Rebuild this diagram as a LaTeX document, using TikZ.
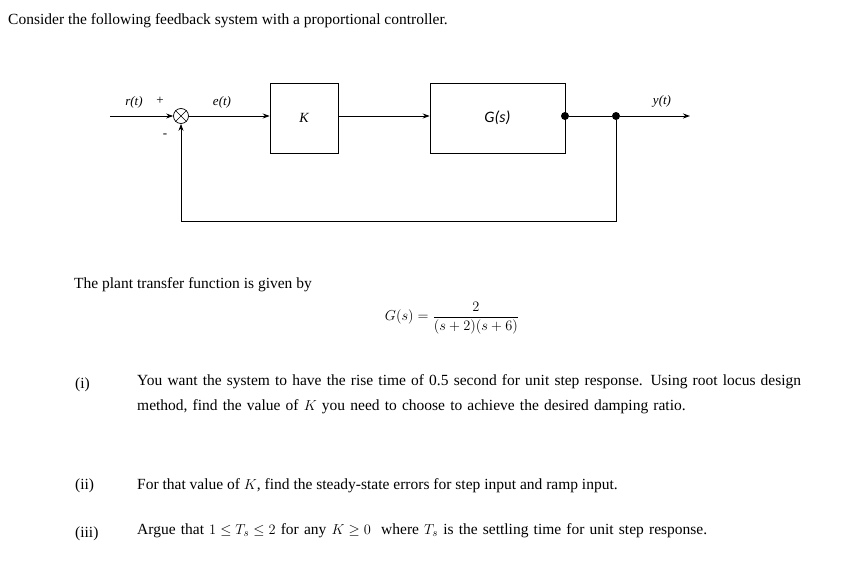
\documentclass[tikz,border=0pt]{standalone}
\usepackage{amsmath}
\usepackage{fontspec}
\setmainfont{Liberation Serif}
\newfontfamily\carlitofont{Carlito}
\usetikzlibrary{arrows.meta}
\begin{document}
\begin{tikzpicture}[x=1pt,y=-1pt,
  blk/.style={draw,line width=0.6pt,inner sep=0pt},
  sig/.style={line width=0.9pt,-{Stealth[length=7pt,width=5pt]}},
  wire/.style={line width=0.9pt},
  dotn/.style={circle,fill=black,inner sep=0pt,minimum size=8pt},
  txt/.style={anchor=west,inner sep=0pt,font=\fontsize{15.5}{18}\selectfont},
  lbl/.style={inner sep=0pt,font=\fontsize{13}{15}\selectfont\itshape}]
\useasboundingbox (0,0) rectangle (847,586);
\node[txt] (title) at (8,21) {Consider the following feedback system with a proportional controller.};
% diagram
\coordinate (in) at (110,116);
\node[draw,circle,line width=0.7pt,minimum size=15pt,inner sep=0pt] (sum) at (181,116) {};
\draw[line width=0.7pt] (sum.north west)--(sum.south east) (sum.north east)--(sum.south west);
\node[blk,minimum width=68pt,minimum height=70pt] (K) at (304,118) {\fontsize{14}{16}\selectfont\itshape K};
\node[blk,minimum width=135pt,minimum height=70pt] (G) at (497.5,118) {\carlitofont\fontsize{16}{18}\selectfont\itshape G(s)};
\node[dotn] (d1) at (565,116) {};
\node[dotn] (d2) at (616,116) {};
\coordinate (out) at (690,116);
\coordinate (fb1) at (616,221);
\coordinate (fb2) at (181,221);
\draw[sig] (in) -- (sum.west);
\draw[sig] (sum.east) -- (K.west|-sum);
\draw[sig] (K.east|-sum) -- (G.west|-sum);
\draw[wire] (d1) -- (d2);
\draw[sig] (d2) -- (out);
\draw[sig] (d2) -- (fb1) -- (fb2) -- (sum.south);
\node[lbl] (r) at (134,102) {r(t)};
\node[lbl] (plus) at (160,101) {\upshape +};
\node[lbl] (minus) at (165,136) {\upshape -};
\node[lbl] (e) at (222,102) {e(t)};
\node[lbl] (y) at (662,101) {y(t)};
% text
\node[txt] (plant) at (74,285) {The plant transfer function is given by};
\node[inner sep=0pt,font=\fontsize{15}{18}\selectfont] (eq) at (452,318) {$G(s)=\dfrac{2}{(s+2)(s+6)}$};
\node[txt] (n1) at (75,385) {(i)};
\node[txt,anchor=north west,text width=690pt,align=left,font=\fontsize{15.5}{25.5}\selectfont] (t1) at (137,374) {You want the system to have the rise time of 0.5 second for unit step response. Using root locus design method, find the value of $K$ you need to choose to achieve the desired damping ratio.};
\node[txt] (n2) at (75,486) {(ii)};
\node[txt] (t2) at (137,486) {For that value of $K$, find the steady-state errors for step input and ramp input.};
\node[txt] (n3) at (75,534) {(iii)};
\node[txt,anchor=north west,text width=690pt,align=left,font=\fontsize{15.5}{24}\selectfont] (t3) at (137,523) {Argue that $1\le T_s\le 2$ for any $K\ge 0$\ \ where $T_s$ is the settling time for unit step response.};
\end{tikzpicture}
\end{document}
